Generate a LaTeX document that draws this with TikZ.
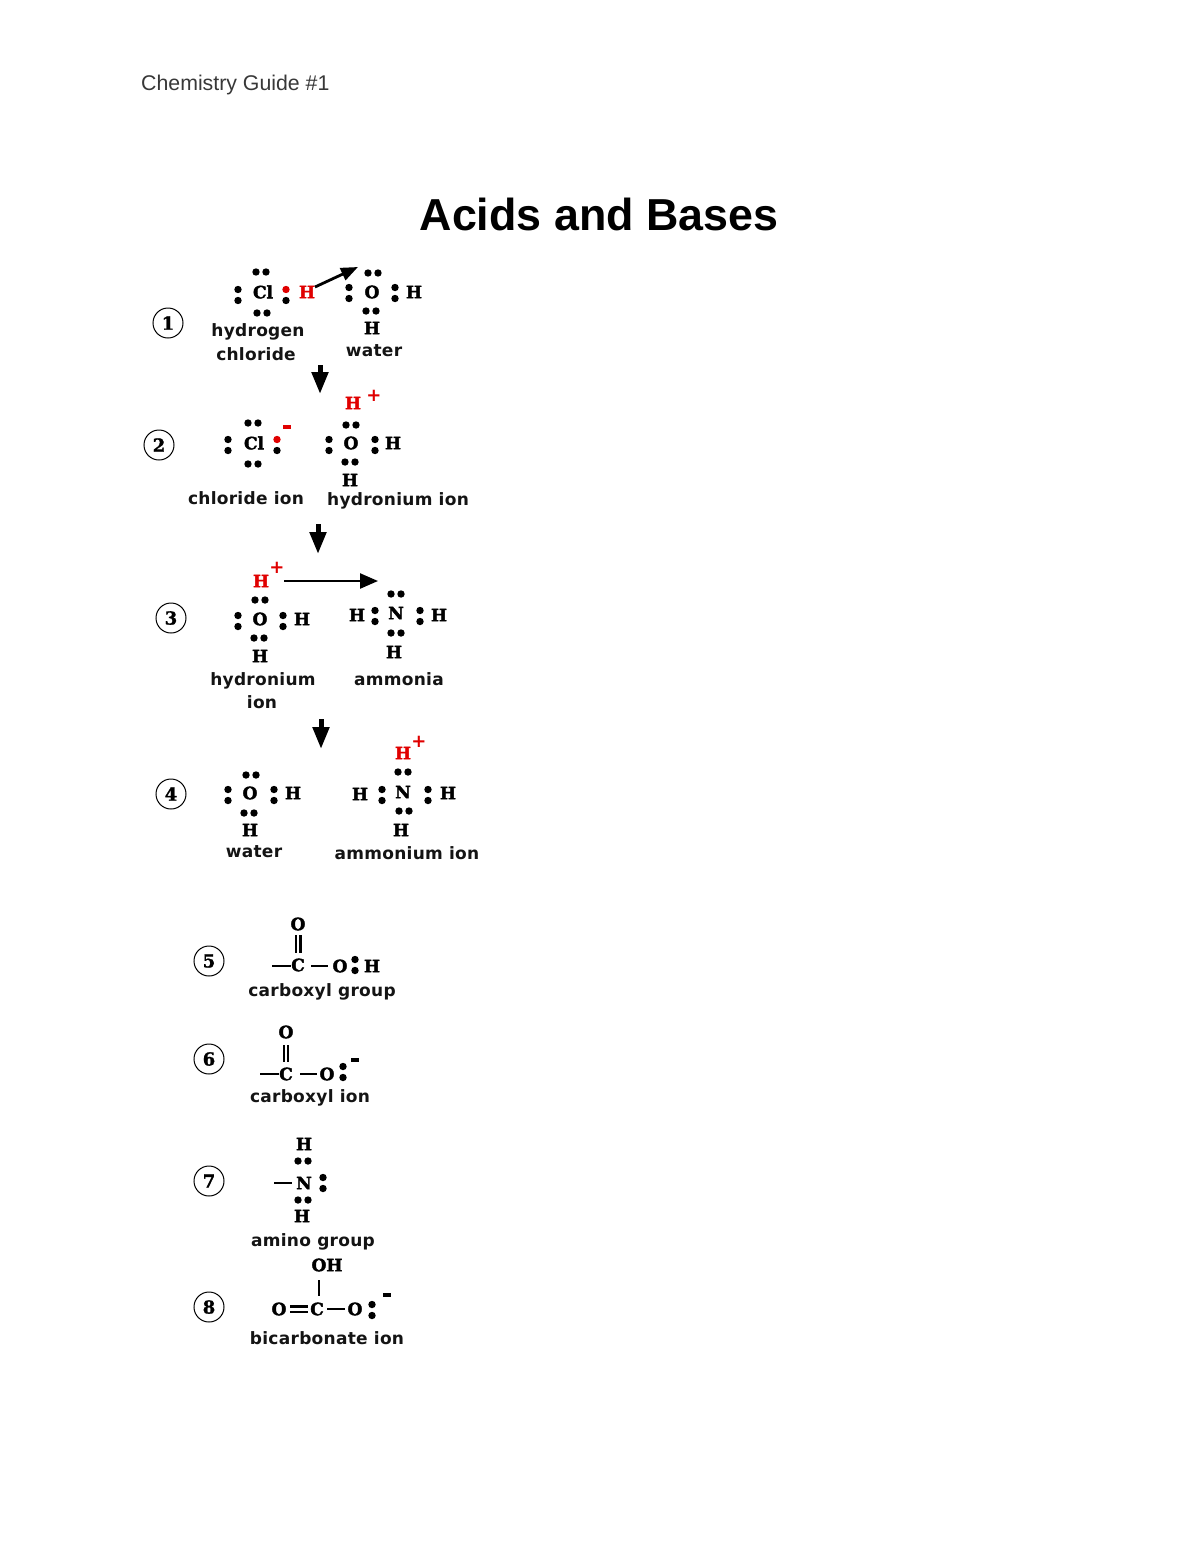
\documentclass[tikz,border=0pt]{standalone}
\usepackage{fontspec}
\usetikzlibrary{arrows.meta}
\setmainfont{Liberation Sans}
\newfontfamily\atomfont{DejaVu Serif Bold}[FakeBold=2.2]
\newfontfamily\numfont{DejaVu Serif Bold}[FakeBold=1.2]
\newfontfamily\labfont{DejaVu Sans Bold}[LetterSpace=1.6]
\newfontfamily\signfont{DejaVu Sans Bold}
\definecolor{chemred}{HTML}{E00000}
\tikzset{
  atom/.style={inner sep=0pt,font=\atomfont\fontsize{17}{17}\selectfont,text=black},
  ratom/.style={atom,text=chemred},
  lab/.style={inner sep=0pt,text height=12pt,text depth=0pt,font=\labfont\fontsize{17}{20}\selectfont,text=black!92},
  num/.style={circle,draw=black,line width=1pt,minimum size=30pt,inner sep=0pt,font=\numfont\fontsize{18}{18}\selectfont},
  sign/.style={inner sep=0pt,font=\signfont\fontsize{18}{18}\selectfont,text=chemred},
  rminus/.style={fill=chemred,inner sep=0pt,minimum width=8pt,minimum height=3.6pt},
  kminus/.style={rminus,fill=black},
  bondline/.style={line width=2.6pt,black},
  stepdown/.style={line width=5pt,black,-{Triangle[length=22pt,width=16pt]},shorten >=-1pt},
  transfer/.style={line width=2.4pt,black,-{Triangle[length=18pt,width=15pt]}}
}
\newcommand{\hd}[3][black]{\fill[#1] (#2-5,#3) circle[radius=3.7] (#2+5,#3) circle[radius=3.7];}
\newcommand{\vd}[3][black]{\fill[#1] (#2,#3-5.5) circle[radius=3.7] (#2,#3+5.5) circle[radius=3.7];}
\newcommand{\rvd}[2]{\fill[chemred] (#1,#2-5.5) circle[radius=3.7];\fill[black] (#1,#2+5.5) circle[radius=3.7];}
\begin{document}
\begin{tikzpicture}[x=1pt,y=-1pt]
\useasboundingbox (0,0) rectangle (1200,1553);
\fill[white] (0,0) rectangle (1200,1553);
\node[anchor=west,inner sep=0pt,text=black!78,font=\fontsize{21.3}{22}\selectfont] (head) at (141,84.5) {Chemistry Guide \#1};
\node[inner sep=0pt,font=\bfseries\fontsize{44.8}{46}\selectfont] (title) at (599,214) {Acids and Bases};

% step 1
\node[num] (n1) at (168,323) {1};
\node[atom] (cl1) at (263,292) {Cl};
\node[ratom] (h1) at (307,292) {H};
\hd{261}{272}\hd{262}{313}\vd{238}{295}\rvd{286}{295}
\node[atom] (o1) at (372,292) {O};
\node[atom] (h1r) at (414,292) {H};
\node[atom] (h1b) at (372,328) {H};
\hd{373}{273}\hd{371}{311}\vd{349}{293}\vd{395}{293}
\node[lab] (l1a) at (258,330) {hydrogen};
\node[lab] (l1b) at (256,354) {chloride};
\node[lab] (l1c) at (374,350) {water};
\coordinate (t1) at (358,267);
\draw[line width=2.8pt,-{Triangle[length=17pt,width=13pt]}] (315,287) -- (t1);
\coordinate (a1s) at (320,365); \coordinate (a1e) at (320,393);
\draw[stepdown] (a1s) -- (a1e);

% step 2
\node[num] (n2) at (159,445) {2};
\node[ratom] (h2) at (353,403) {H};
\node[sign] (p2) at (374,396) {+};
\node[atom] (cl2) at (254,443) {Cl};
\hd{253}{423}\hd{253}{464}\vd{228}{445}\rvd{277}{445}
\node[rminus] (m2) at (287,427) {};
\node[atom] (o2) at (351,443) {O};
\node[atom] (h2r) at (393,443) {H};
\node[atom] (h2b) at (350,480) {H};
\hd{351}{425}\hd{350}{462}\vd{329}{445}\vd{375}{445}
\node[lab] (l2a) at (246,498) {chloride ion};
\node[lab] (l2b) at (398,499) {hydronium ion};
\coordinate (a2s) at (318,524); \coordinate (a2e) at (318,553);
\draw[stepdown] (a2s) -- (a2e);

% step 3
\node[num] (n3) at (171,618) {3};
\node[ratom] (h3) at (261,581) {H};
\node[sign] (p3) at (277,568) {+};
\node[atom] (o3) at (260,619) {O};
\node[atom] (h3r) at (302,619) {H};
\node[atom] (h3b) at (260,656) {H};
\hd{260}{600}\hd{259}{638}\vd{238}{621}\vd{283}{621}
\node[lab] (l3a) at (263,679) {hydronium};
\node[lab] (l3b) at (262,702) {ion};
\node[atom] (n3a) at (396,613) {N};
\node[atom] (h3l2) at (357,615) {H};
\node[atom] (h3r2) at (439,615) {H};
\node[atom] (h3b2) at (394,652) {H};
\hd{396}{594}\hd{396}{633}\vd{375}{616}\vd{420}{616}
\node[lab] (l3c) at (399,679) {ammonia};
\coordinate (t3s) at (284,581); \coordinate (t3e) at (378,581);
\draw[transfer] (t3s) -- (t3e);
\coordinate (a3s) at (321,719); \coordinate (a3e) at (321,748);
\draw[stepdown] (a3s) -- (a3e);

% step 4
\node[num] (n4) at (171,794) {4};
\node[atom] (o4) at (250,793) {O};
\node[atom] (h4r) at (293,793) {H};
\node[atom] (h4b) at (250,830) {H};
\hd{251}{775}\hd{249}{813}\vd{228}{795}\vd{274}{795}
\node[lab] (l4a) at (254,851) {water};
\node[ratom] (h4t) at (403,753) {H};
\node[sign] (p4) at (419,742) {+};
\node[atom] (n4a) at (403,792) {N};
\node[atom] (h4l2) at (360,794) {H};
\node[atom] (h4r2) at (448,793) {H};
\node[atom] (h4b2) at (401,830) {H};
\hd{403}{772}\hd{404}{811}\vd{382}{795}\vd{428}{795}
\node[lab] (l4b) at (407,853) {ammonium ion};

% 5
\node[num] (n5) at (209,961) {5};
\node[atom] (o5t) at (298,924) {O};
\node[atom] (c5) at (298,965) {C};
\node[atom] (o5) at (340,966) {O};
\node[atom] (h5) at (372,966) {H};
\vd{355}{965}
\draw[bondline] (296,935) -- (296,953) (300.5,935) -- (300.5,953);
\coordinate (b5l) at (272,966);
\draw[bondline] (b5l) -- (291,966) (311,966) -- (328,966);
\node[lab] (l5) at (322,990) {carboxyl group};

% 6
\node[num] (n6) at (209,1059) {6};
\node[atom] (o6t) at (286,1032) {O};
\node[atom] (c6) at (286,1074) {C};
\node[atom] (o6) at (327,1074) {O};
\vd{343}{1072}
\node[kminus] (m6) at (355,1060) {};
\draw[bondline,line width=2pt] (283.5,1045) -- (283.5,1062) (288,1045) -- (288,1062);
\coordinate (b6l) at (260,1074);
\draw[bondline] (b6l) -- (279,1074) (300,1074) -- (317,1074);
\node[lab] (l6) at (310,1096) {carboxyl ion};

% 7
\node[num] (n7) at (209,1181) {7};
\node[atom] (h7t) at (304,1144) {H};
\node[atom] (n7a) at (304,1183) {N};
\node[atom] (h7b) at (302,1216) {H};
\hd{303}{1161}\hd{303}{1200}\vd{323}{1183}
\coordinate (b7l) at (274,1183);
\draw[bondline] (b7l) -- (292,1183);
\node[lab] (l7) at (313,1240) {amino group};

% 8
\node[num] (n8) at (209,1307) {8};
\node[atom] (oh8) at (327,1265) {OH};
\node[atom] (o8l) at (279,1309) {O};
\node[atom] (c8) at (317,1309) {C};
\node[atom] (o8) at (355,1309) {O};
\vd{372}{1310}
\node[kminus] (m8) at (387,1295) {};
\draw[bondline] (319,1280) -- (319,1296);
\draw[bondline] (290,1306.5) -- (308,1306.5) (290,1312) -- (308,1312);
\draw[bondline] (327,1309) -- (345,1309);
\node[lab] (l8) at (327,1338) {bicarbonate ion};
\end{tikzpicture}
\end{document}
